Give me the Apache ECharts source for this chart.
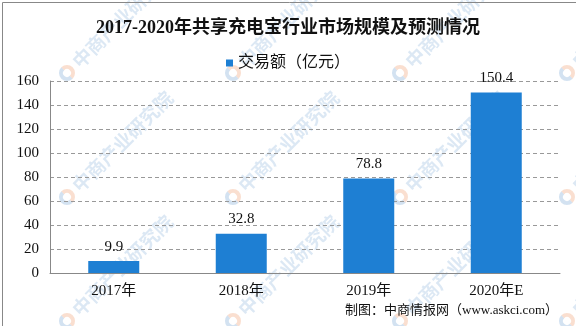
<!DOCTYPE html>
<html>
<head>
<meta charset="utf-8">
<script src="https://cdn.jsdelivr.net/npm/echarts@6/dist/echarts.min.js"></script>
<style>
html,body{margin:0;padding:0;background:#fff;}
#chart{width:576px;height:326px;}
</style>
</head>
<body>
<div id="chart"></div>
<script>
// Shared power-bank market size, 2017-2020 (2020 is an estimate)
const years = ['2017年', '2018年', '2019年', '2020年E'];
const volume = [9.9, 32.8, 78.8, 150.4];
const yTicks = { min: 0, max: 160, interval: 20 };

const serif = '"Liberation Serif", "DejaVu Serif", "Noto Sans CJK SC", serif';
const chart = echarts.init(document.getElementById('chart'), null, { renderer: 'canvas' });

// faint diagonal publisher watermark, tiled across the canvas
const marks = [];
[73, 197, 321].forEach(function (wy) {
  [67, 233, 400, 567].forEach(function (wx) {
    marks.push({
      type: 'group',
      x: wx,
      y: wy,
      rotation: Math.PI / 4,
      silent: true,
      z: -10,
      children: [
        { type: 'sector', shape: { cx: 0, cy: 0, r: 8, r0: 4, startAngle: Math.PI * 0.5, endAngle: Math.PI * 1.5 },
          style: { fill: 'rgba(110,160,210,0.3)' } },
        { type: 'sector', shape: { cx: 0, cy: 0, r: 8, r0: 4, startAngle: -Math.PI * 0.5, endAngle: Math.PI * 0.5 },
          style: { fill: 'rgba(240,150,100,0.3)' } },
        { type: 'text', x: 12, y: 0,
          style: { text: '中商产业研究院', fontSize: 19, fontWeight: 'bold', fontFamily: '"Noto Sans CJK SC", sans-serif',
                   fill: 'rgba(110,160,210,0.24)', textVerticalAlign: 'middle' } }
      ]
    });
  });
});

chart.setOption({
  backgroundColor: '#ffffff',
  animation: false,
  title: {
    text: '2017-2020年共享充电宝行业市场规模及预测情况',
    left: 'center',
    top: 14,
    textStyle: { fontFamily: serif, fontSize: 18, fontWeight: 'bold', color: '#111' }
  },
  legend: {
    top: 50,
    left: 'center',
    itemWidth: 7,
    itemHeight: 7,
    itemGap: 4,
    icon: 'rect',
    textStyle: { fontFamily: serif, fontSize: 16, color: '#111' },
    data: ['交易额（亿元）']
  },
  grid: { left: 50, right: 16, top: 81, bottom: 53 },
  xAxis: {
    type: 'category',
    data: years,
    axisLine: { lineStyle: { color: '#888', width: 1 } },
    axisTick: { show: false },
    axisLabel: { fontFamily: serif, fontSize: 15, color: '#111', margin: 11 }
  },
  yAxis: {
    type: 'value',
    min: yTicks.min,
    max: yTicks.max,
    interval: yTicks.interval,
    axisLine: { show: true, lineStyle: { color: '#888', width: 1 } },
    axisTick: { show: false },
    axisLabel: { fontFamily: serif, fontSize: 15, color: '#111', margin: 11 },
    splitLine: { lineStyle: { color: '#999', type: [4, 3], width: 1 } }
  },
  series: [{
    name: '交易额（亿元）',
    type: 'bar',
    data: volume,
    barWidth: '40%',
    itemStyle: { color: '#1E7FD3' },
    label: {
      show: true,
      position: 'top',
      distance: 7,
      fontFamily: serif,
      fontSize: 15,
      color: '#111'
    }
  }],
  graphic: marks.concat([
    {
      type: 'text',
      right: 18,
      top: 304,
      style: {
        text: '制图：中商情报网（www.askci.com）',
        fontFamily: serif,
        fontSize: 13,
        fill: '#111'
      }
    },
    {
      type: 'rect',
      left: 0,
      top: 0,
      shape: { x: 0.5, y: 0.5, width: 575, height: 325 },
      style: { fill: 'none', stroke: '#888', lineWidth: 1 },
      silent: true
    }
  ])
});
</script>
</body>
</html>
